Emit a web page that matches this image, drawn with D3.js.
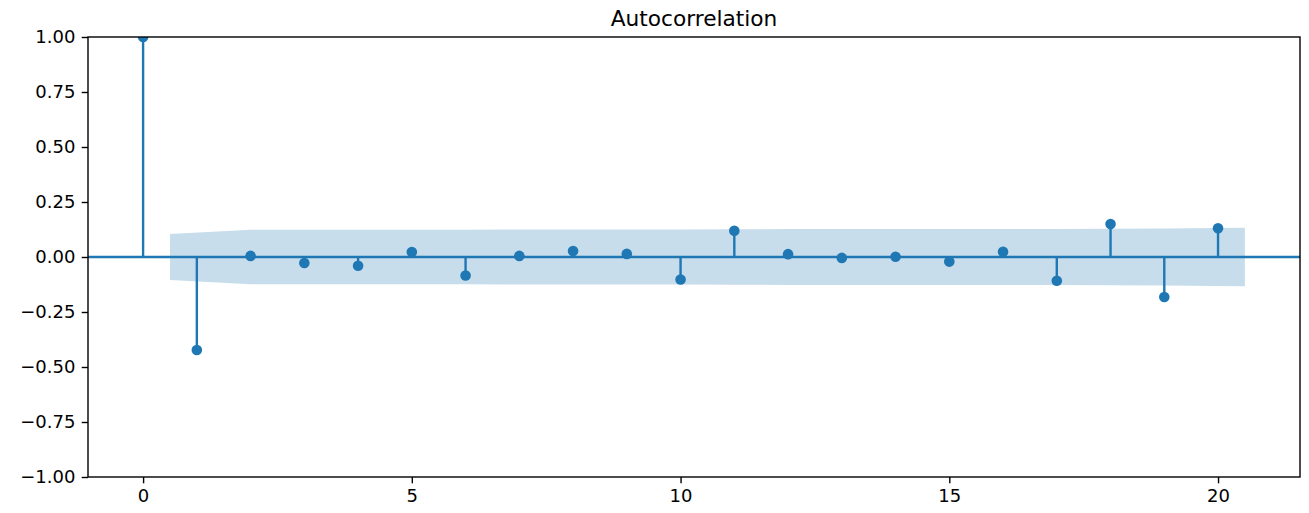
<!DOCTYPE html>
<html><head><meta charset="utf-8">
<script src="https://cdn.jsdelivr.net/npm/d3@7"></script>
<style>body{margin:0;background:#fff}svg{display:block}text{font-family:"DejaVu Sans",sans-serif}</style>
</head><body><svg id="c" width="1309" height="513"></svg>
<script>
const lags = [0,1,2,3,4,5,6,7,8,9,10,11,12,13,14,15,16,17,18,19,20];
const acfValues = [1.0,-0.423,0.005,-0.027,-0.04,0.023,-0.084,0.005,0.027,0.014,-0.102,0.119,0.013,-0.004,0.001,-0.021,0.024,-0.108,0.150,-0.182,0.131];
const bandLags = [0.5,2,3,4,5,6,7,8,9,10,11,12,13,14,15,16,17,18,19,20.5];
const bandHalf = [0.105,0.124,0.124,0.124,0.124,0.124,0.125,0.125,0.125,0.125,0.126,0.127,0.127,0.127,0.127,0.127,0.127,0.128,0.130,0.133];
const xTicks = [0,5,10,15,20];
const yTicks = [-1,-0.75,-0.5,-0.25,0,0.25,0.5,0.75,1];
const title = "Autocorrelation";

const color = "#1f77b4";
const L=88, R=1300, T=37, B=477;
const svg = d3.select("#c");
const x = d3.scaleLinear().domain([-1.025,21.525]).range([L,R]);
const y = d3.scaleLinear().domain([-1,1]).range([B,T]);

svg.append("clipPath").attr("id","clip").append("rect").attr("x",L).attr("y",T).attr("width",R-L).attr("height",B-T);
const g = svg.append("g").attr("clip-path","url(#clip)");

// confidence band
const area = d3.area().x((d,i)=>x(bandLags[i])).y0((d)=>y(-d)).y1(d=>y(d));
g.append("path").datum(bandHalf).attr("d",area).attr("fill",color).attr("fill-opacity",0.25);

// zero line
g.append("line").attr("x1",L).attr("x2",R).attr("y1",y(0)).attr("y2",y(0)).attr("stroke",color).attr("stroke-width",2.4);

// stems
g.selectAll("line.stem").data(lags).enter().append("line").attr("class","stem")
 .attr("x1",d=>x(d)).attr("x2",d=>x(d)).attr("y1",y(0)).attr("y2",(d,i)=>y(acfValues[i]))
 .attr("stroke",color).attr("stroke-width",2.4);
// markers
g.selectAll("circle").data(lags).enter().append("circle")
 .attr("cx",d=>x(d)).attr("cy",(d,i)=>y(acfValues[i])).attr("r",5.3).attr("fill",color);

// axes
const fmtY = d=> d3.format(".2f")(d).replace("-","\u2212");
const xa = svg.append("g").attr("transform",`translate(0,${B})`).call(d3.axisBottom(x).tickValues(xTicks).tickFormat(d3.format("d")).tickSize(6.3).tickPadding(6.3));
const ya = svg.append("g").attr("transform",`translate(${L},0)`).call(d3.axisLeft(y).tickValues(yTicks).tickFormat(fmtY).tickSize(6.3).tickPadding(6.3));
[xa,ya].forEach(a=>{a.select(".domain").remove();a.selectAll("line").attr("stroke","#000").attr("stroke-width",1.4);
 a.selectAll("text").attr("font-size","18px").attr("fill","#000").attr("font-family","DejaVu Sans");});
// spines
svg.append("rect").attr("x",L).attr("y",T).attr("width",R-L).attr("height",B-T).attr("fill","none").attr("stroke","#000").attr("stroke-width",1.4);

svg.append("text").attr("x",(L+R)/2).attr("y",T-10.8).attr("text-anchor","middle").attr("font-size","21.7px").attr("fill","#000").text(title);
</script></body></html>
